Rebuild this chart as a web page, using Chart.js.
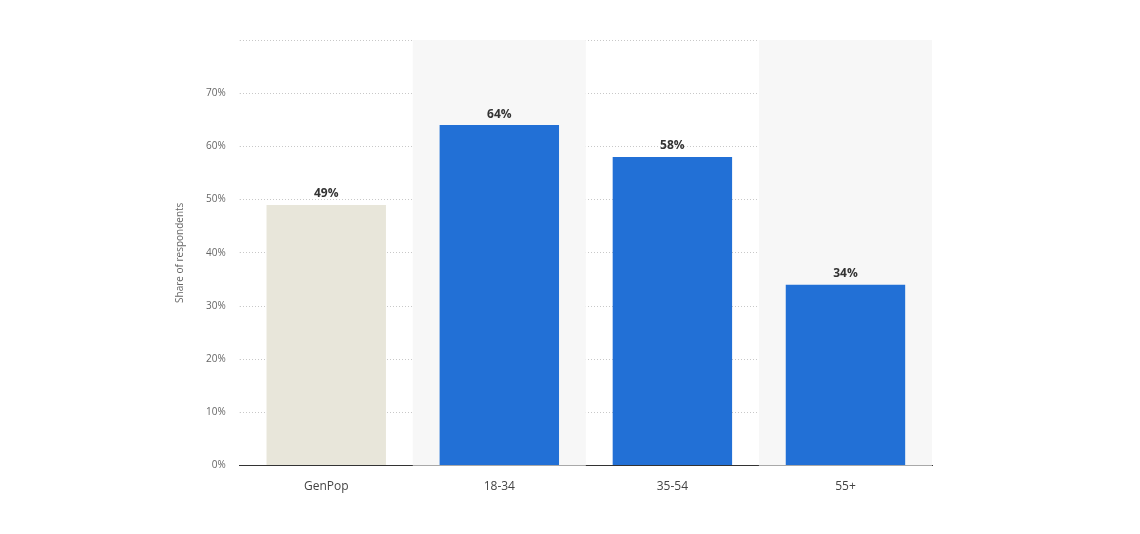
<!DOCTYPE html>
<html>
<head>
<meta charset="utf-8">
<script src="https://cdn.jsdelivr.net/npm/chart.js@4"></script>
<style>
  html, body { margin: 0; padding: 0; background: #fff; }
  #wrap { position: relative; width: 1140px; height: 534px; }
</style>
</head>
<body>
<div id="wrap"><canvas id="chart"></canvas></div>
<script>
// Chart data
const categories = ["GenPop", "18-34", "35-54", "55+"]
const shares = [49, 64, 58, 34]
const barColors = ["#e8e6da", "#2270d6", "#2270d6", "#2270d6"]
const shadedCategories = [1, 3]

// light bands behind every other category
const bandPlugin = {
  id: "bands",
  beforeDatasetsDraw(chart) {
    const { ctx, chartArea, scales } = chart
    const x = scales.x
    const half = (x.getPixelForValue(1) - x.getPixelForValue(0)) / 2
    ctx.save()
    ctx.fillStyle = "#f7f7f7"
    shadedCategories.forEach(i => {
      const c = x.getPixelForValue(i)
      ctx.fillRect(c - half, chartArea.top, half * 2, chartArea.bottom - chartArea.top)
    })
    ctx.restore()
  },
}

// value labels above bars
const labelPlugin = {
  id: "valueLabels",
  afterDatasetsDraw(chart) {
    const { ctx } = chart
    const meta = chart.getDatasetMeta(0)
    ctx.save()
    ctx.font = "bold 12px 'Open Sans', sans-serif"
    ctx.fillStyle = "#333"
    ctx.textAlign = "center"
    ctx.textBaseline = "bottom"
    meta.data.forEach((bar, i) => {
      ctx.fillText(shares[i] + "%", bar.x, bar.y - 5)
    })
    ctx.restore()
  },
}

new Chart(document.getElementById("chart"), {
  type: "bar",
  data: {
    labels: categories,
    datasets: [{
      data: shares,
      backgroundColor: barColors,
      barPercentage: 0.69,
      categoryPercentage: 1,
    }],
  },
  options: {
    responsive: true,
    maintainAspectRatio: false,
    animation: false,
    layout: { padding: { left: 170, right: 208, top: 40, bottom: 34 } },
    plugins: { legend: { display: false }, tooltip: { enabled: false } },
    scales: {
      x: {
        grid: { display: false },
        border: { color: "#333", width: 1 },
        ticks: { color: "#444", font: { family: "'Open Sans', sans-serif", size: 12 }, padding: 6 },
      },
      y: {
        min: 0,
        max: 80,
        ticks: {
          stepSize: 10,
          color: "#666",
          padding: 14,
          font: { family: "'Open Sans', sans-serif", size: 10 },
          callback: v => (v >= 80 ? "" : v + "%"),
        },
        grid: { color: "#c8c8c8", tickLength: 0 },
        border: { display: false, dash: [1, 2] },
        title: {
          display: true,
          text: "Share of respondents",
          color: "#666",
          font: { family: "'Open Sans', sans-serif", size: 10 },
          padding: { bottom: 6 },
        },
      },
    },
  },
  plugins: [bandPlugin, labelPlugin],
})
</script>
</body>
</html>
